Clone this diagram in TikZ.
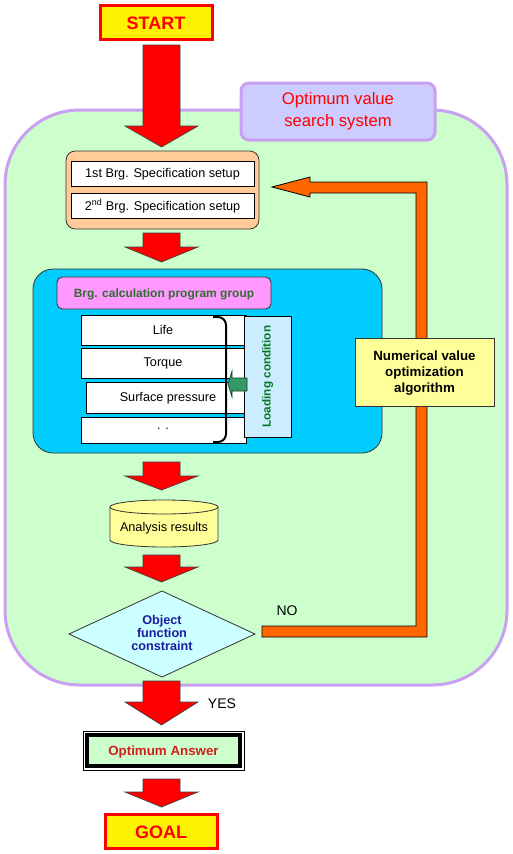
\documentclass[tikz,border=0pt]{standalone}
\usepackage{fontspec}
\setmainfont{Liberation Sans}

\definecolor{sysgreen}{HTML}{CCFFCC}
\definecolor{syslav}{HTML}{C9A0F2}
\definecolor{labelblue}{HTML}{CCCCFF}
\definecolor{peach}{HTML}{FFCC99}
\definecolor{calcblue}{HTML}{00CCFF}
\definecolor{calcpink}{HTML}{FF99FF}
\definecolor{loadblue}{HTML}{CCECFF}
\definecolor{paleyellow}{HTML}{FFFF99}
\definecolor{checkcyan}{HTML}{CCFFFF}
\definecolor{feedorange}{HTML}{FF6600}
\definecolor{olivegreen}{HTML}{2F6F2F}
\definecolor{loadgreen}{HTML}{007A1F}
\definecolor{pushgreen}{HTML}{339966}
\definecolor{navy}{HTML}{1C1CA0}
\definecolor{answerred}{HTML}{D02020}

\begin{document}
\begin{tikzpicture}[
  x=0.75pt, y=-0.75pt,
  block arrow/.style={fill=red, draw=black!75, line width=0.5pt},
  end box/.style={fill=yellow, draw=red, line width=2.25pt},
  end text/.style={font=\fontsize{13.5}{16}\selectfont\bfseries, text=red},
  white box/.style={fill=white, draw=black, line width=0.5pt},
  small text/.style={font=\fontsize{9.5}{11}\selectfont},
  every node/.style={inner sep=0pt}
  ]
  \useasboundingbox (0,0) rectangle (513,854);

  % optimum value search system
  \draw[fill=sysgreen, draw=syslav, line width=2.25pt, rounded corners=56pt] (5,110) rectangle (507,685);
  \draw[fill=labelblue, draw=syslav, line width=2.25pt, rounded corners=6pt] (241,83) rectangle (435,140);
  \node (system) [align=center, text=red, font=\fontsize{12.5}{16.5}\selectfont] at (338,111) {Optimum value\\search system};

  \draw[end box] (100,5) rectangle (212,39);
  \node (start) [end text] at (156,23) {START};

  % bearing specification
  \draw[fill=peach, draw=black!80, line width=0.6pt, rounded corners=7pt] (66,151) rectangle (259,229);
  \draw[white box] (71,161) rectangle (254,186);
  \draw[white box] (71,193) rectangle (254,218);
  \node (spec1) [small text] at (162.5,174) {1st Brg. Specification setup};
  \node (spec2) [small text] at (162.5,206) {2\textsuperscript{nd} Brg. Specification setup};

  % calculation program group
  \draw[fill=calcblue, draw=black!80, line width=0.6pt, rounded corners=15pt] (33,269) rectangle (382,453);
  \draw[fill=calcpink, draw=black!80, line width=0.6pt, rounded corners=4pt] (57,277) rectangle (271,309);
  \node (group) [font=\fontsize{9}{11}\selectfont\bfseries, text=olivegreen] at (164,294) {Brg. calculation program group};
  \draw[white box] (81,315) rectangle (246,345);
  \draw[white box] (81,348) rectangle (246,378);
  \draw[white box] (86,382) rectangle (246,413);
  \draw[white box] (81,417) rectangle (246,443);
  \node (life) [small text] at (163,330) {Life};
  \node (torque) [small text] at (163,363) {Torque};
  \node (surface) [small text] at (168,398) {Surface pressure};
  \node (more) [small text] at (163,429) {. .};
  \draw[fill=loadblue, draw=black, line width=0.5pt] (244,316) rectangle (291,437);
  \node (load) [rotate=90, font=\fontsize{8.8}{10}\selectfont\bfseries, text=loadgreen] at (267.5,376.5) {Loading condition};
  \draw[line width=1.5pt, rounded corners=6pt] (213,317) -- (226,317) -- (226,442) -- (213,442);
  \draw[fill=pushgreen, draw=black!60!pushgreen, line width=0.5pt] (247,378) -- (232,378) -- (232,371) -- (228,384) -- (232,397) -- (232,391) -- (247,391) -- cycle;

  % analysis results
  \draw[fill=paleyellow, draw=black!80, line width=0.6pt] (110,507) -- (110,540) arc[start angle=180, end angle=0, x radius=54, y radius=7] -- (218,507);
  \draw[fill=paleyellow, draw=black!80, line width=0.6pt] (164,507) ellipse[x radius=54, y radius=7];
  \node (results) [small text] at (164,528) {Analysis results};

  % object function check
  \draw[fill=checkcyan, draw=black!80, line width=0.6pt] (69,634) -- (162,591) -- (255,634) -- (162,677) -- cycle;
  \node (check) [align=center, text=navy, font=\fontsize{9.5}{9.75}\selectfont\bfseries] at (162,633) {Object\\function\\constraint};
  \node (no) [font=\fontsize{10.5}{12}\selectfont] at (287,611) {NO};

  % feedback loop
  \draw[fill=feedorange, draw=black, line width=0.6pt] (262,626) -- (416,626) -- (416,193) -- (310,193) -- (310,197) -- (272,187) -- (310,177) -- (310,182) -- (427,182) -- (427,637) -- (262,637) -- cycle;
  \draw[fill=paleyellow, draw=black!80, line width=0.6pt] (355,338) rectangle (494,406);
  \node (optimizer) [align=center, font=\fontsize{10}{12}\selectfont\bfseries] at (424.5,373) {Numerical value\\optimization\\algorithm};

  % answer and goal
  \node (yes) [font=\fontsize{10.5}{12}\selectfont] at (222,704) {YES};
  \draw[white box] (83,731) rectangle (244,770);
  \draw[fill=sysgreen, draw=black, line width=2.5pt] (87,735) rectangle (240,766);
  \node (answer) [font=\fontsize{10}{12}\selectfont\bfseries, text=answerred] at (163.5,752) {Optimum Answer};
  \draw[end box] (105,814) rectangle (217,848);
  \node (goal) [end text] at (161,832) {GOAL};

  \foreach \ytop/\yhead/\ytip in {45/126/147, 233/247/262, 462/476/490, 555/567/582, 681/702/725, 779/792/807}
    \draw[block arrow] (143,\ytop) -- (180,\ytop) -- (180,\yhead) -- (198,\yhead) -- (161.5,\ytip) -- (125,\yhead) -- (143,\yhead) -- cycle;
\end{tikzpicture}
\end{document}
